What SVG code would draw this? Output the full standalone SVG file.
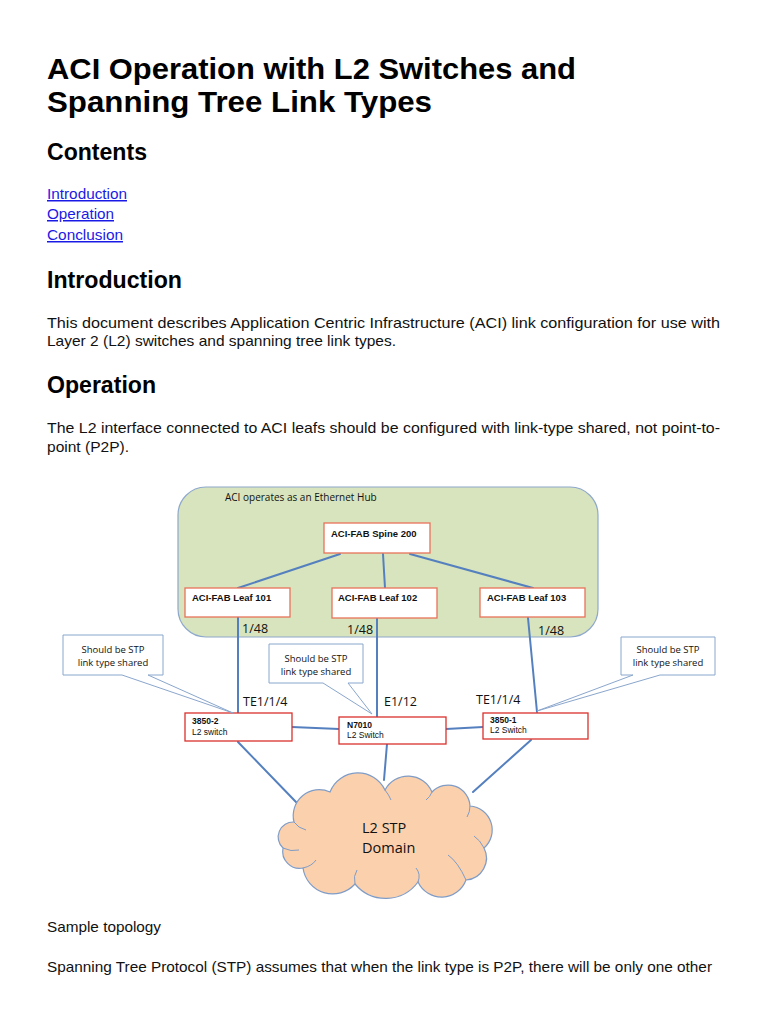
<svg xmlns="http://www.w3.org/2000/svg" width="768" height="1024" viewBox="0 0 768 1024">
<style>
.h{font-family:"Liberation Sans",Arial,sans-serif;font-weight:bold;fill:#000}
.b{font-family:"Liberation Sans",Arial,sans-serif;font-size:15px;fill:#111}
.lk{font-family:"Liberation Sans",Arial,sans-serif;font-size:15px;fill:#1a1ae6;text-decoration:underline}
.nb{fill:#fff;stroke:#e8725a;stroke-width:1.3}
.sb{fill:#fff;stroke:#d9302c;stroke-width:1.3}
.nt{font-family:"Liberation Sans",Arial,sans-serif;font-weight:bold;font-size:9.5px;fill:#111}
.st{font-family:"Liberation Sans",Arial,sans-serif;font-size:8.5px;fill:#111}
.stb{font-family:"Liberation Sans",Arial,sans-serif;font-size:8.5px;font-weight:bold;fill:#111}
.c{font-family:"Open Sans","Liberation Sans",sans-serif;fill:#111}
.conn{stroke:#5580bf;stroke-width:2;fill:none;stroke-linecap:round}
.call{fill:#fff;stroke:#8aa6cc;stroke-width:1}
</style>
<rect width="768" height="1024" fill="#fff"/>
<g id="page-text">
<text class="h" x="47" y="79" font-size="30" textLength="529" lengthAdjust="spacingAndGlyphs">ACI Operation with L2 Switches and</text>
<text class="h" x="47" y="112" font-size="30" textLength="385" lengthAdjust="spacingAndGlyphs">Spanning Tree Link Types</text>
<text class="h" x="47" y="160" font-size="23" textLength="100" lengthAdjust="spacingAndGlyphs">Contents</text>
<text class="lk" x="47" y="199" textLength="80" lengthAdjust="spacingAndGlyphs">Introduction</text>
<text class="lk" x="47" y="219" textLength="67" lengthAdjust="spacingAndGlyphs">Operation</text>
<text class="lk" x="47" y="240" textLength="76" lengthAdjust="spacingAndGlyphs">Conclusion</text>
<text class="h" x="47" y="288" font-size="23" textLength="135" lengthAdjust="spacingAndGlyphs">Introduction</text>
<text class="b" x="47" y="328" textLength="673" lengthAdjust="spacingAndGlyphs">This document describes Application Centric Infrastructure (ACI) link configuration for use with</text>
<text class="b" x="47" y="346" textLength="349" lengthAdjust="spacingAndGlyphs">Layer 2 (L2) switches and spanning tree link types.</text>
<text class="h" x="47" y="393" font-size="23" textLength="109" lengthAdjust="spacingAndGlyphs">Operation</text>
<text class="b" x="47" y="433" textLength="673" lengthAdjust="spacingAndGlyphs">The L2 interface connected to ACI leafs should be configured with link-type shared, not point-to-</text>
<text class="b" x="47" y="452" textLength="82" lengthAdjust="spacingAndGlyphs">point (P2P).</text>
<text class="b" x="47" y="932" textLength="114" lengthAdjust="spacingAndGlyphs">Sample topology</text>
<text class="b" x="47" y="972" textLength="665" lengthAdjust="spacingAndGlyphs">Spanning Tree Protocol (STP) assumes that when the link type is P2P, there will be only one other</text>
</g>
<g id="aci-fabric">
<rect x="178" y="487" width="420" height="150" rx="28" fill="#d8e4bd" stroke="#8ea8cc" stroke-width="1.2"/>
<text class="c" x="225" y="501" font-size="10">ACI operates as an Ethernet Hub</text>
</g>
<g id="connectors">
<line class="conn" x1="340" y1="554" x2="238" y2="588"/>
<line class="conn" x1="383" y1="554" x2="385" y2="588"/>
<line class="conn" x1="410" y1="554" x2="533" y2="588"/>
<line class="conn" x1="238" y1="617" x2="238" y2="713"/>
<line class="conn" x1="377" y1="618" x2="377" y2="717"/>
<line class="conn" x1="528" y1="618" x2="537" y2="712"/>
<line class="conn" x1="292" y1="727" x2="339" y2="729"/>
<line class="conn" x1="446" y1="729" x2="483" y2="727"/>
<line class="conn" x1="238" y1="742" x2="296" y2="802"/>
<line class="conn" x1="387" y1="744" x2="384" y2="780"/>
<line class="conn" x1="531" y1="740" x2="473" y2="792"/>
</g>
<g id="port-labels" class="c" font-size="12.5">
<text x="242" y="633">1/48</text>
<text x="347" y="634">1/48</text>
<text x="538" y="635">1/48</text>
<text x="243" y="706">TE1/1/4</text>
<text x="384" y="706">E1/12</text>
<text x="476" y="704">TE1/1/4</text>
</g>
<g id="spine200">
<rect class="nb" x="324" y="523" width="106" height="30"/>
<text class="nt" x="331" y="537">ACI-FAB Spine 200</text>
</g>
<g id="leaf101">
<rect class="nb" x="185" y="588" width="105" height="29"/>
<text class="nt" x="192" y="601">ACI-FAB Leaf 101</text>
</g>
<g id="leaf102">
<rect class="nb" x="332" y="588" width="105" height="30"/>
<text class="nt" x="338" y="601">ACI-FAB Leaf 102</text>
</g>
<g id="leaf103">
<rect class="nb" x="480" y="588" width="105" height="29"/>
<text class="nt" x="487" y="601">ACI-FAB Leaf 103</text>
</g>
<g id="sw3850-2">
<rect class="sb" x="185" y="713" width="107" height="28"/>
<text class="stb" x="192" y="724">3850-2</text>
<text class="st" x="192" y="735">L2 switch</text>
</g>
<g id="n7010">
<rect class="sb" x="339" y="717" width="107" height="27"/>
<text class="stb" x="347" y="728">N7010</text>
<text class="st" x="347" y="738">L2 Switch</text>
</g>
<g id="sw3850-1">
<rect class="sb" x="483" y="713" width="105" height="26"/>
<text class="stb" x="490" y="723">3850-1</text>
<text class="st" x="490" y="733">L2 Switch</text>
</g>
<g id="callout-left">
<path class="call" d="M63 635 H163 V675 H148 L233 713 L122 675 H63 Z"/>
<text class="c" x="113" y="653" font-size="9.5" text-anchor="middle">Should be STP</text>
<text class="c" x="113" y="666" font-size="9.5" text-anchor="middle">link type shared</text>
</g>
<g id="callout-middle">
<path class="call" d="M269 644 H363 V683 H348 L372 714 L323 683 H269 Z"/>
<text class="c" x="316" y="662" font-size="9.5" text-anchor="middle">Should be STP</text>
<text class="c" x="316" y="675" font-size="9.5" text-anchor="middle">link type shared</text>
</g>
<g id="callout-right">
<path class="call" d="M621 637 H715 V675 H660 L537 711 L633 675 H621 Z"/>
<text class="c" x="668" y="653" font-size="9.5" text-anchor="middle">Should be STP</text>
<text class="c" x="668" y="666" font-size="9.5" text-anchor="middle">link type shared</text>
</g>
<g id="l2-stp-domain">
<path d="M294 822 A26 26 0 0 1 330 792 A30 30 0 0 1 385 790 A26 26 0 0 1 432 792 A22 22 0 0 1 470 806 A24 24 0 0 1 484 848 A22 22 0 0 1 466 880 A26 26 0 0 1 418 882 A40 40 0 0 1 355 884 A30 30 0 0 1 303 868 A17 17 0 0 1 283 848 A15 15 0 0 1 294 822 Z" fill="#fbd0ad" stroke="#7f9cc6" stroke-width="1.2"/>
<g fill="none" stroke="#7f9cc6" stroke-width="1">
<path d="M294 822 Q298 828 306 830"/>
<path d="M283 848 Q291 852 299 850"/>
<path d="M303 868 Q312 866 316 860"/>
<path d="M355 884 Q353 876 357 870"/>
<path d="M418 882 Q421 874 416 868"/>
<path d="M466 880 Q458 862 448 855"/>
<path d="M484 848 Q480 840 474 836"/>
<path d="M470 806 Q470 812 467 817"/>
<path d="M432 792 Q430 797 426 800"/>
<path d="M385 790 Q389 795 391 800"/>
</g>
<text class="c" x="362" y="833" font-size="14.5">L2 STP</text>
<text class="c" x="362" y="853" font-size="14.5">Domain</text>
</g>
</svg>
